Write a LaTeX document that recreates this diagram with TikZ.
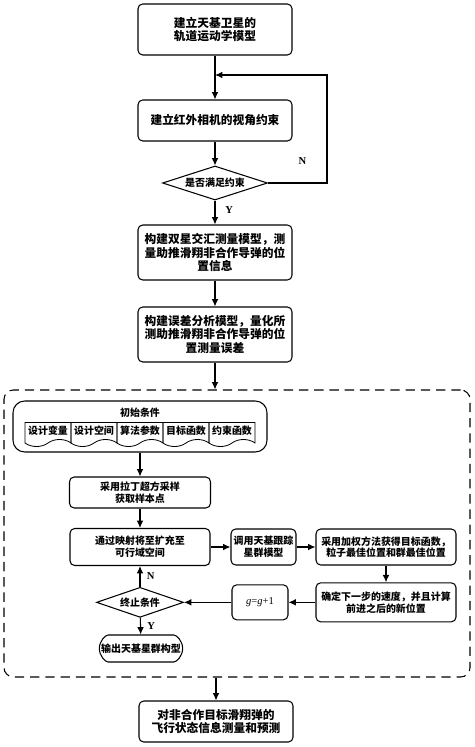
\documentclass[tikz,border=0pt]{standalone}
\usepackage{fontspec}
\setmainfont{Liberation Serif}
\newfontfamily\cjk{Noto Sans CJK SC}
\usepackage{tikz}
\usetikzlibrary{shapes.geometric, shapes.symbols, shapes.misc, arrows.meta, positioning, calc}
\tikzset{
    stepbox/.style={draw, rectangle, rounded corners=4pt, line width=0.9pt, align=center, inner sep=2pt,
        font=\cjk\bfseries\fontsize{10}{11.5}\selectfont},
    smallbox/.style={stepbox, font=\cjk\bfseries\fontsize{8.5}{10}\selectfont},
    decision/.style={draw, diamond, aspect=3, inner sep=0pt, line width=0.9pt,
        font=\cjk\bfseries\fontsize{8.5}{10}\selectfont},
    cellbox/.style={draw, tape, tape bend top=none, tape bend bottom=in and out, tape bend height=6pt,
        minimum width=1.38cm, minimum height=0.72cm, inner sep=1pt, line width=0.7pt,
        font=\cjk\bfseries\fontsize{8.5}{10}\selectfont},
    groupbox/.style={draw, dashed, dash pattern=on 8pt off 5pt, rounded corners=8pt, line width=0.9pt},
    flowarrow/.style={-{Latex[length=2.2mm, width=2mm]}, line width=0.9pt},
    yesno/.style={font=\bfseries\fontsize{9}{10}\selectfont},
}
\begin{document}
\begin{tikzpicture}
    \useasboundingbox (0,0) rectangle (14.22,-22.41);

    % Upper chain
    \node[stepbox, minimum width=4.62cm, minimum height=1.53cm] (model) at (6.45,-0.885)
          {建立天基卫星的\\轨道运动学模型};
    \node[stepbox, minimum width=4.62cm, minimum height=1.23cm] (fov) at (6.45,-3.615)
          {建立红外相机的视角约束};
    \node[decision, minimum width=3.15cm, minimum height=1.02cm] (check) at (6.45,-5.49) {是否满足约束};
    \node[stepbox, minimum width=4.62cm, minimum height=1.65cm] (meas) at (6.45,-7.575)
          {构建双星交汇测量模型，测\\量助推滑翔非合作导弹的位\\置信息};
    \node[stepbox, minimum width=4.62cm, minimum height=1.65cm] (err) at (6.45,-10.035)
          {构建误差分析模型，量化所\\测助推滑翔非合作导弹的位\\置测量误差};

    \coordinate (loop) at (6.45,-2.25);
    \coordinate (back) at (9.81,-2.25);

    % Optimisation block
    \node[groupbox, minimum width=13.98cm, minimum height=8.61cm] (opt) at (7.11,-16.005) {};

    \node[draw, rectangle, rounded corners=10pt, line width=0.9pt, minimum width=7.62cm, minimum height=1.53cm]
          (init) at (4.2,-12.795) {};
    \node[font=\cjk\bfseries\fontsize{8.5}{10}\selectfont] (inittitle) at (4.2,-12.39) {初始条件};
    \node[cellbox] (c1) at (1.44,-12.93) {设计变量};
    \node[cellbox] (c2) at (2.82,-12.93) {设计空间};
    \node[cellbox] (c3) at (4.20,-12.93) {算法参数};
    \node[cellbox] (c4) at (5.58,-12.93) {目标函数};
    \node[cellbox] (c5) at (6.96,-12.93) {约束函数};

    \node[smallbox, minimum width=4.23cm, minimum height=0.93cm] (latin) at (4.2,-14.775)
          {采用拉丁超方采样\\获取样本点};
    \node[smallbox, minimum width=4.2cm, minimum height=1.11cm] (map) at (4.2,-16.41)
          {通过映射将至扩充至\\可行域空间};
    \node[smallbox, minimum width=1.95cm, minimum height=1.08cm] (call) at (7.905,-16.41)
          {调用天基跟踪\\星群模型};
    \node[smallbox, minimum width=4.2cm, minimum height=1.08cm] (weight) at (11.58,-16.41)
          {采用加权方法获得目标函数，\\粒子最佳位置和群最佳位置};
    \node[smallbox, minimum width=4.2cm, minimum height=1.17cm] (next) at (11.58,-18.07)
          {确定下一步的速度，并且计算\\前进之后的新位置};
    \node[smallbox, minimum width=1.68cm, minimum height=1.05cm, font=\fontsize{9}{10}\selectfont] (gen) at (7.8,-18.07)
          {\textit{g}=\textit{g}+1};
    \node[decision, minimum width=2.61cm, minimum height=0.9cm] (stop) at (4.2,-18.07) {终止条件};
    \node[smallbox, rounded rectangle, minimum width=2.64cm, minimum height=0.81cm] (out) at (4.23,-19.455)
          {输出天基星群构型};

    % Final step
    \node[stepbox, minimum width=4.62cm, minimum height=1.23cm] (final) at (6.48,-21.645)
          {对非合作目标滑翔弹的\\飞行状态信息测量和预测};

    % Connections
    \draw[flowarrow] (model) -- (fov);
    \draw[flowarrow] (fov) -- (check);
    \draw[flowarrow] (check) -- (meas) node[pos=0.4, right=5pt, yesno] {Y};
    \draw[flowarrow] (check.east) -| (back) node[pos=0.6, left=14pt, yesno] {N} -- (loop);
    \draw[flowarrow] (meas) -- (err);
    \draw[flowarrow] (err.south) -- (err.south |- opt.north);
    \draw[flowarrow] (init) -- (latin);
    \draw[flowarrow] (latin) -- (map);
    \draw[flowarrow] (map) -- (call);
    \draw[flowarrow] (call) -- (weight);
    \draw[flowarrow] (weight) -- (next);
    \draw[flowarrow] (next) -- (gen);
    \draw[flowarrow] (gen) -- (stop);
    \draw[flowarrow] (stop) -- (map) node[midway, right=2pt, yesno] {N};
    \draw[flowarrow] (stop) -- (out) node[midway, right=2pt, yesno] {Y};
    \draw[flowarrow] (opt.south -| final) -- (final);
\end{tikzpicture}
\end{document}
